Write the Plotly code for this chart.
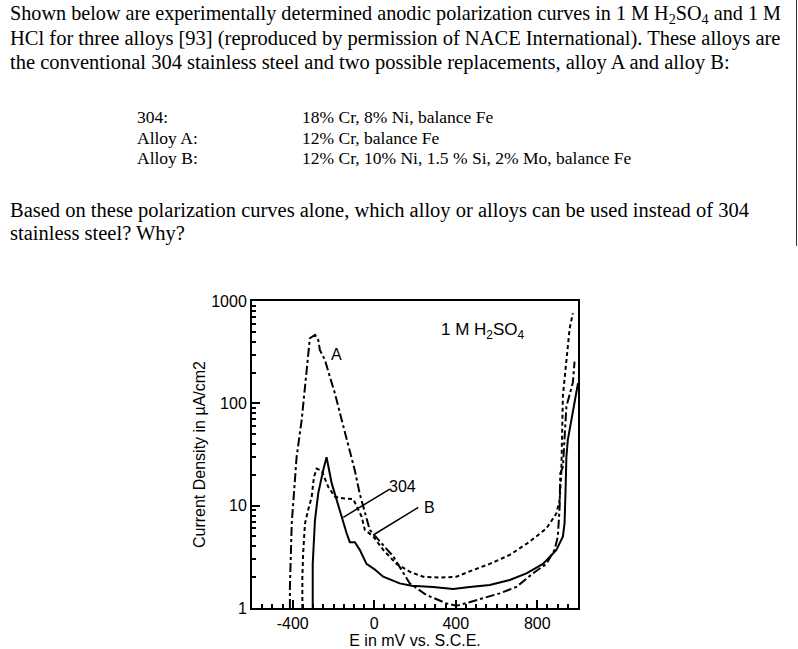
import plotly.graph_objects as go

# ---------------- data ----------------
# Alloy 304 (solid)
e_304 = [-302, -302, -291, -275, -250, -234, -209, -185, -160, -136, -120, -95, -71, -38, 0, 44, 125, 183, 289, 387, 469, 567, 665, 747, 828, 894, 926, 934, 939, 943, 950, 1000]
i_304 = [1.0, 2.7, 7.2, 13.2, 22.4, 29.7, 16.6, 11.4, 7.8, 5.4, 4.4, 4.4, 3.7, 2.7, 2.4, 2.02, 1.74, 1.65, 1.6, 1.53, 1.6, 1.68, 1.88, 2.18, 2.7, 3.7, 5.0, 6.7, 14.2, 30, 44, 157]

# Alloy A (dash-dot)
e_A = [-414, -414, -405, -381, -356, -340, -324, -316, -291, -275, -267, -242, -218, -193, -160, -128, -95, -71, -46, -22, 40, 93, 174, 256, 354, 403, 440, 501, 616, 698, 779, 845, 885, 901, 910, 913, 926, 943, 975, 983]
i_A = [1.0, 1.6, 6.7, 30, 69, 146, 309, 433, 467, 417, 333, 265, 182, 125, 69, 38, 22, 13, 8.4, 5.8, 4.2, 3.2, 1.74, 1.34, 1.11, 1.05, 1.1, 1.2, 1.39, 1.61, 2.18, 2.7, 3.7, 5.0, 9.8, 20.7, 24, 93, 160, 256]

# Alloy B (short dash)
e_B = [-353, -353, -349, -340, -324, -307, -296, -283, -258, -226, -193, -152, -103, -62, -46, -5, 44, 109, 175, 240, 322, 403, 485, 567, 665, 763, 845, 894, 910, 918, 926, 959, 975]
i_B = [1.0, 2.0, 3.4, 6.7, 9.1, 12.2, 19, 23, 22, 15.3, 12.2, 11.8, 11.6, 7.8, 5.8, 5.0, 3.7, 2.7, 2.26, 2.02, 1.98, 2.02, 2.35, 2.7, 3.3, 4.45, 6.0, 8.4, 11.4, 20.7, 120, 540, 760]

x_ticks = [-400, 0, 400, 800]
y_ticks = [1, 10, 100, 1000]
y_minor = [m * d for d in (1, 10, 100) for m in range(2, 10)]

# ---------------- geometry helpers ----------------
W, H = 798, 649
def px(x):
    return x / W
def py(y):
    return 1 - y / H

L, R, T, B = 252, 578, 301, 608

fig = go.Figure()
fig.add_trace(go.Scatter(x=e_304, y=i_304, mode="lines", name="304",
                         line=dict(color="black", width=2, dash="solid")))
fig.add_trace(go.Scatter(x=e_A, y=i_A, mode="lines", name="A",
                         line=dict(color="black", width=2, dash="9px,3px,3px,3px")))
fig.add_trace(go.Scatter(x=e_B, y=i_B, mode="lines", name="B",
                         line=dict(color="black", width=2, dash="4px,3px")))

# leader lines for labels (data coords)
fig.add_trace(go.Scatter(x=[-152, 76], y=[7.7, 14.5], mode="lines",
                         line=dict(color="black", width=1.5), showlegend=False))
fig.add_trace(go.Scatter(x=[-5, 216], y=[5.17, 9.6], mode="lines",
                         line=dict(color="black", width=1.5), showlegend=False))

SANS = "Liberation Sans, Arial, sans-serif"
afont = dict(family=SANS, size=16, color="black")
fig.add_annotation(x=-185, y=2.48, xref="x", yref="y", text="A", showarrow=False,
                   font=afont, xanchor="center", yanchor="middle")
fig.add_annotation(x=140, y=1.19, xref="x", yref="y", text="304", showarrow=False,
                   font=afont, xanchor="center", yanchor="middle")
fig.add_annotation(x=270, y=0.98, xref="x", yref="y", text="B", showarrow=False,
                   font=afont, xanchor="center", yanchor="middle")
fig.add_annotation(x=532, y=2.71, xref="x", yref="y", text="1 M H<sub>2</sub>SO<sub>4</sub>",
                   showarrow=False, font=dict(family=SANS, size=17, color="black"),
                   xanchor="center", yanchor="middle")

fig.update_layout(
    width=W, height=H,
    margin=dict(l=0, r=0, t=0, b=0),
    paper_bgcolor="white", plot_bgcolor="white",
    showlegend=False,
    xaxis=dict(
        domain=[px(L), px(R)], range=[-600, 1000], automargin=False,
        tickmode="array", tickvals=x_ticks, ticktext=[str(v) for v in x_ticks],
        ticks="inside", ticklen=8, tickwidth=1.5, tickcolor="black",
        minor=dict(ticks="inside", dtick=50, tick0=0, ticklen=4, tickwidth=1.5, tickcolor="black", showgrid=False),
        showgrid=False, zeroline=False,
        showline=True, linecolor="black", linewidth=2, mirror=True,
        tickfont=dict(family=SANS, size=16, color="black"),
        title=dict(text="E in mV vs. S.C.E.", standoff=7,
                   font=dict(family=SANS, size=16, color="black")),
    ),
    yaxis=dict(
        domain=[py(B), py(T)], type="log", range=[0, 3], automargin=False,
        tickmode="array", tickvals=y_ticks, ticktext=[str(v) for v in y_ticks],
        ticks="inside", ticklen=8, tickwidth=1.5, tickcolor="black",
        minor=dict(ticks="inside", tickmode="array", tickvals=y_minor, ticklen=4, tickwidth=1.5, tickcolor="black", showgrid=False),
        showgrid=False, zeroline=False,
        showline=True, linecolor="black", linewidth=2, mirror=True,
        tickfont=dict(family=SANS, size=16, color="black"),
        title=dict(text="Current Density in µA/cm2", standoff=2,
                   font=dict(family=SANS, size=16, color="black")),
    ),
)

# ---------------- problem text ----------------
SERIF = "Liberation Serif, Times New Roman, serif"
lines = [
    (15, 20.2, "Shown below are experimentally determined anodic polarization curves in 1 M H<sub>2</sub>SO<sub>4</sub> and 1 M"),
    (39, 20.5, "HCl for three alloys [93] (reproduced by permission of NACE International). These alloys are"),
    (63, 20.5, "the conventional 304 stainless steel and two possible replacements, alloy A and alloy B:"),
    (210, 20.5, "Based on these polarization curves alone, which alloy or alloys can be used instead of 304"),
    (233, 20.5, "stainless steel? Why?"),
]
for yy, fs, t in lines:
    fig.add_annotation(x=px(8), y=py(yy), xref="paper", yref="paper", text=t, showarrow=False,
                       font=dict(family=SERIF, size=fs, color="black"), xanchor="left", yanchor="middle")

sfont = dict(family=SERIF, size=17.5, color="black")
rows = [(117, "304:", "18% Cr, 8% Ni, balance Fe"),
        (138, "Alloy A:", "12% Cr, balance Fe"),
        (158, "Alloy B:", "12% Cr, 10% Ni, 1.5 % Si, 2% Mo, balance Fe")]
for yy, a, b in rows:
    fig.add_annotation(x=px(135), y=py(yy), xref="paper", yref="paper", text=a, showarrow=False,
                       font=sfont, xanchor="left", yanchor="middle")
    fig.add_annotation(x=px(300), y=py(yy), xref="paper", yref="paper", text=b, showarrow=False,
                       font=sfont, xanchor="left", yanchor="middle")

fig.add_shape(type="line", xref="paper", yref="paper", x0=px(796.5), x1=px(796.5), y0=py(0), y1=py(246),
              line=dict(color="#333333", width=1))

fig.write_html("out.html", config={"displayModeBar": False},
               post_script="document.body.style.margin='0px';")
